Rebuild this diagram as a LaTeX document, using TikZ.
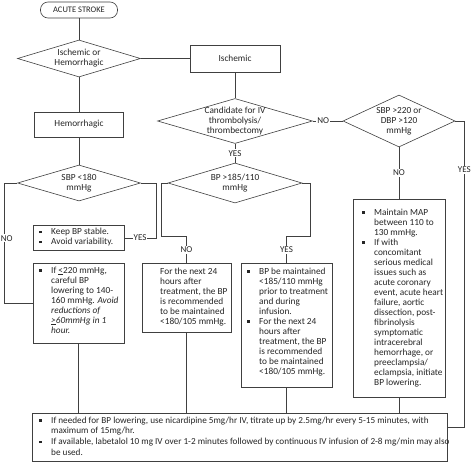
\documentclass[tikz,border=0pt]{standalone}
\usepackage{fontspec}
\setmainfont{Carlito}
\usetikzlibrary{shapes.geometric,calc}
\newcommand{\bl}{\makebox[12pt][l]{\raisebox{1.4pt}{\rule{2.5pt}{2.5pt}}}}
\begin{document}
\begin{tikzpicture}[x=1pt,y=-1pt,
  line/.style={draw=black!75, line width=0.6pt},
  box/.style={rectangle, draw=black!75, line width=0.6pt, inner sep=0pt, font=\fontsize{9.3}{10}\selectfont, text=black!85},
  dia/.style={diamond, draw=black!75, line width=0.6pt, inner sep=0pt},
  txt/.style={inner sep=0pt, align=left, font=\fontsize{9.3}{10}\selectfont, text=black!85},
  btxt/.style={inner sep=0pt, align=left, font=\fontsize{9.2}{10.7}\selectfont, text=black!85},
  ctxt/.style={inner sep=0pt, align=center, font=\fontsize{9.3}{10}\selectfont, text=black!85},
  lab/.style={fill=white, inner sep=1pt, font=\fontsize{9}{10}\selectfont, text=black!85}]
\fill[white] (0,0) rectangle (474,464);
\useasboundingbox (0,0) rectangle (474,464);

% nodes
\node[box, rounded corners=7.5pt, minimum width=77pt, minimum height=16pt, font=\fontsize{8.5}{10}\selectfont] (start) at (79,10) {ACUTE STROKE};
\node[dia, minimum width=123pt, minimum height=37pt] (d1) at (79,58.5) {};
\node[ctxt] (t1) at (d1) {Ischemic or\\Hemorrhagic};
\node[box, minimum width=90pt, minimum height=27pt] (isch) at (235,58.5) {Ischemic};
\node[box, minimum width=89pt, minimum height=25pt] (hem) at (79,124.5) {Hemorrhagic};
\node[dia, minimum width=123pt, minimum height=36pt] (d3) at (79,183) {};
\node[ctxt] (t3) at (d3) {SBP <180\\mmHg};
\node[dia, minimum width=155pt, minimum height=45pt] (d2) at (235,121) {};
\node[ctxt] (t2) at (d2) {Candidate for IV\\thrombolysis/\\thrombectomy};
\node[dia, minimum width=134pt, minimum height=40pt] (d4) at (235,183) {};
\node[ctxt] (t4) at (d4) {BP >185/110\\mmHg};
\node[dia, minimum width=112pt, minimum height=52pt] (d5) at (399,121) {};
\node[ctxt] (t5) at (d5) {SBP >220 or\\DBP >120\\mmHg};

\node[box, minimum width=91pt, minimum height=25pt] (keep) at (78.5,238) {};
\node[box, minimum width=91pt, minimum height=80pt] (b1) at (78.5,303) {};
\node[box, minimum width=89pt, minimum height=69pt] (nb) at (186.5,297.5) {};
\node[box, minimum width=91pt, minimum height=124pt] (yb) at (286.5,325) {};
\node[box, minimum width=92pt, minimum height=198pt] (map) at (399,298) {};
\node[box, minimum width=415pt, minimum height=48pt] (bot) at (239.5,437) {};

% texts in boxes
\node[txt, anchor=west] (tk) at (39,237.5) {\begin{tabular}{@{}l@{}l@{}}\bl&Keep BP stable.\\ \bl&Avoid variability.\end{tabular}};
\node[txt, anchor=west] (tb1) at (39,301) {\begin{tabular}{@{}l@{}l@{}}\bl&If \underline{<}220 mmHg,\\ &careful BP\\ &lowering to 140-\\ &160 mmHg. \textit{Avoid}\\ &\textit{reductions of}\\ &\textit{\underline{>}60mmHg in 1}\\ &\textit{hour.}\end{tabular}};
\node[txt, anchor=west] (tnb) at (160,297) {For the next 24\\hours after\\treatment, the BP\\is recommended\\to be maintained\\<180/105 mmHg.};
\node[txt, anchor=west] (tyb) at (247,322) {\begin{tabular}{@{}l@{}l@{}}\bl&BP be maintained\\ &<185/110 mmHg\\ &prior to treatment\\ &and during\\ &infusion.\\ \bl&For the next 24\\ &hours after\\ &treatment, the BP\\ &is recommended\\ &to be maintained\\ &<180/105 mmHg.\end{tabular}};
\node[txt, anchor=west] (tmap) at (362,298) {\begin{tabular}{@{}l@{}l@{}}\bl&Maintain MAP\\ &between 110 to\\ &130 mmHg.\\ \bl&If with\\ &concomitant\\ &serious medical\\ &issues such as\\ &acute coronary\\ &event, acute heart\\ &failure, aortic\\ &dissection, post-\\ &fibrinolysis\\ &symptomatic\\ &intracerebral\\ &hemorrhage, or\\ &preeclampsia/\\ &eclampsia, initiate\\ &BP lowering.\end{tabular}};
\node[btxt, anchor=west] (tbot) at (39,437) {\begin{tabular}{@{}l@{}l@{}}\bl&If needed for BP lowering, use nicardipine 5mg/hr IV, titrate up by 2.5mg/hr every 5-15 minutes, with\\ &maximum of 15mg/hr.\\ \bl&If available, labetalol 10 mg IV over 1-2 minutes followed by continuous IV infusion of 2-8 mg/min may also\\ &be used.\end{tabular}};

% connectors
\draw[line] (start.south) -- (d1.north);
\draw[line] (d1.east) -- (isch.west);
\draw[line] (d1.south) -- (hem.north);
\draw[line] (hem.south) -- (d3.north);
\draw[line] (isch.south) -- (d2.north);
\draw[line] (d3.west) -- ++(-13,0) |- node[lab,pos=0.23,xshift=2.5pt,inner xsep=0.5pt]{NO} (b1.west);
\draw[line] (d3.east) -- ++(15,0) |- node[lab,pos=0.75]{YES} (keep.east);
\draw[line] (d2.east) -- node[lab,pos=0.35]{NO} (d5.west);
\draw[line] (d2.south) -- node[lab]{YES} (d4.north);
\draw[line] (d4.west) -- ++(-6,0) |- ($(nb.north)+(0,-26)$) -- node[lab]{NO} (nb.north);
\draw[line] (d4.east) -- ++(8,0) |- ($(yb.north)+(0,-26)$) -- node[lab]{YES} (yb.north);
\draw[line] (d5.south) -- node[lab]{NO} (map.north);
\draw[line] (d5.east) -- ++(9,0) |- node[lab,pos=0.08]{YES} ($(bot.east)+(0,-10)$);
\draw[line] (b1.south) -- (b1.south |- bot.north);
\draw[line] (nb.south) -- (nb.south |- bot.north);
\draw[line] (yb.south) -- (yb.south |- bot.north);
\draw[line] (map.south) -- (map.south |- bot.north);
\end{tikzpicture}
\end{document}
